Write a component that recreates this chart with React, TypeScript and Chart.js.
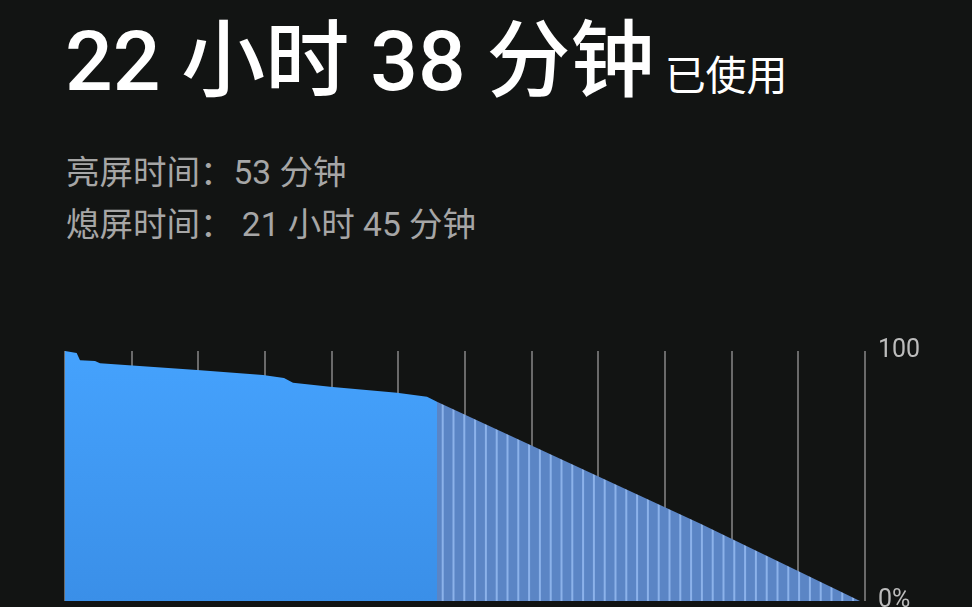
import { useEffect, useRef } from "react"
import { Chart, registerables } from "chart.js"

Chart.register(...registerables)

// battery level (%), x is hours since the chart starts
const ACTUAL_HOURS = [0, 0.35, 0.45, 0.9, 1.05, 3.96, 5.94, 6.57, 6.84, 7.95, 9.96, 10.86, 11.16]
const ACTUAL_LEVEL = [100, 99.2, 96.3, 96, 95.1, 92.4, 90.4, 89.2, 87.3, 85.7, 83.3, 81.7, 79.7]
const PROJECTED_HOURS = [11.16, 19.05, 23.85]
const PROJECTED_LEVEL = [79.7, 31, 0]
const Y_TICKS = [0, 100]
const Y_TICK_LABELS = ["0%", "100"]

const TITLE_HOURS = "22"
const TITLE_MINUTES = "38"
const SCREEN_ON = "亮屏时间：53 分钟"
const SCREEN_OFF = "熄屏时间： 21 小时 45 分钟"

const FONT = "Roboto, 'Noto Sans CJK SC', sans-serif"

function stripes() {
  // light vertical stripes on a muted blue, about every 10.8px
  const c = document.createElement("canvas")
  c.width = 54
  c.height = 8
  const g = c.getContext("2d")!
  g.fillStyle = "#5b85c5"
  g.fillRect(0, 0, 54, 8)
  g.fillStyle = "#8cb2ea"
  for (let i = -1; i < 6; i++) {
    const cx = 10.7 + 10.8 * i
    g.fillRect(cx - 1, 0, 2, 8)
  }
  return g.createPattern(c, "repeat")
}

function BatteryChart() {
  const canvasRef = useRef<HTMLCanvasElement | null>(null)
  const chartRef = useRef<Chart | null>(null)

  useEffect(() => {
    if (!canvasRef.current) return
    const ctx = canvasRef.current.getContext("2d")
    if (!ctx) return
    chartRef.current?.destroy()
    const pattern = stripes()
    chartRef.current = new Chart(ctx, {
      type: "line",
      data: {
        datasets: [
          {
            label: "used",
            data: ACTUAL_HOURS.map((h, i) => ({ x: h, y: ACTUAL_LEVEL[i] })),
            fill: "origin",
            borderWidth: 0,
            pointRadius: 0,
            tension: 0,
            backgroundColor: (c: any) => {
              const area = c.chart.chartArea
              if (!area) return "#3f97f2"
              const gr = c.chart.ctx.createLinearGradient(0, area.top, 0, area.bottom)
              gr.addColorStop(0, "#45a2fd")
              gr.addColorStop(1, "#3a8fe8")
              return gr
            },
          },
          {
            label: "projected",
            data: PROJECTED_HOURS.map((h, i) => ({ x: h, y: PROJECTED_LEVEL[i] })),
            fill: "origin",
            borderWidth: 0,
            pointRadius: 0,
            tension: 0,
            backgroundColor: pattern ?? "#5b85c5",
          },
        ],
      },
      options: {
        animation: false,
        responsive: false,
        maintainAspectRatio: false,
        layout: { padding: { left: 65, right: 0, top: 13, bottom: 32 } },
        plugins: { legend: { display: false }, tooltip: { enabled: false } },
        scales: {
          x: {
            type: "linear",
            min: 0,
            max: 24,
            ticks: { display: false, stepSize: 2 },
            grid: { color: "#6a6a6a", lineWidth: 2, drawTicks: false },
            border: { display: false },
            afterFit: (s: any) => {
              s.height = 0
            },
          },
          y: {
            position: "right",
            min: 0,
            max: 100,
            grid: { display: false, drawTicks: false },
            border: { display: false },
            afterBuildTicks: (s: any) => {
              s.ticks = Y_TICKS.map((v) => ({ value: v }))
            },
            afterFit: (s: any) => {
              s.width = 107
            },
            ticks: {
              padding: 13,
              color: "#bcbcbc",
              font: { family: FONT, size: 25 },
              callback: (v: any) => Y_TICK_LABELS[Y_TICKS.indexOf(Number(v))] ?? "",
            },
          },
        },
      },
    })
    return () => {
      chartRef.current?.destroy()
      chartRef.current = null
    }
  }, [])

  return (
    <canvas
      ref={canvasRef}
      width={972}
      height={310}
      style={{ position: "absolute", left: 0, top: 323, width: 972, height: 310 }}
    />
  )
}

export default function App() {
  return (
    <div
      style={{
        position: "fixed",
        left: 0,
        top: 0,
        width: 972,
        height: 607,
        overflow: "hidden",
        background: "#121413",
        fontFamily: FONT,
      }}
    >
      <div
        style={{
          position: "absolute",
          left: 65,
          top: 20,
          fontSize: 84,
          lineHeight: "84px",
          fontWeight: 500,
          color: "#ffffff",
          whiteSpace: "nowrap",
        }}
      >
        {TITLE_HOURS} 小时 {TITLE_MINUTES} 分钟
        <span style={{ fontSize: 41, fontWeight: 400, marginLeft: 10 }}>已使用</span>
      </div>
      <div
        style={{
          position: "absolute",
          left: 66,
          top: 147,
          fontSize: 33.5,
          lineHeight: "52px",
          color: "#a6a6a6",
          whiteSpace: "pre",
        }}
      >
        <div>{SCREEN_ON}</div>
        <div>{SCREEN_OFF}</div>
      </div>
      <BatteryChart />
    </div>
  )
}
